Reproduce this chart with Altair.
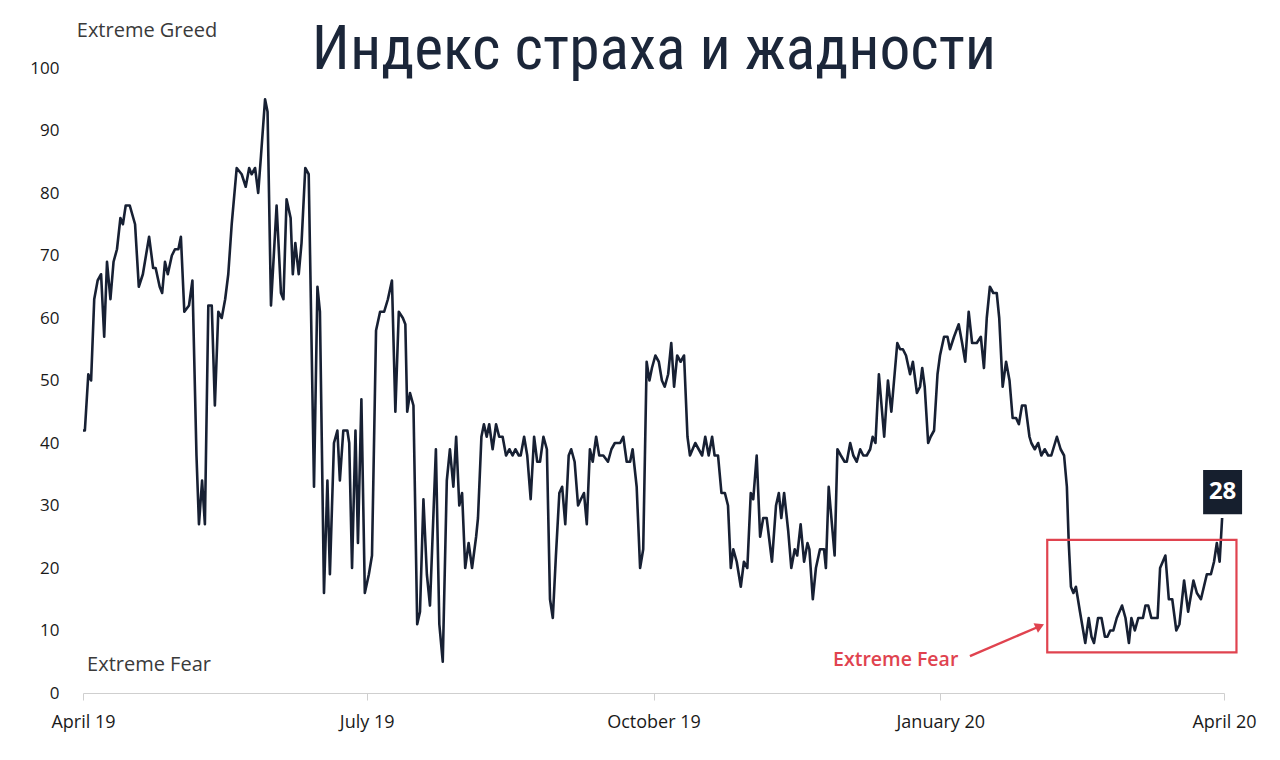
import altair as alt
import pandas as pd

# days since 2019-04-01 and index values
days_q1 = [0,0.6,1.7,2.6,3.6,4.7,5.8,6.8,7.7,8.8,9.8,10.9,12.0,12.8,13.7,15.0,16.7,17.9,19.2,21.2,22.5,23.3,24.6,25.4,26.3,27.2,28.5,29.5,30.6,31.4,32.5,34.0,35.1,36.4,37.2,38.2,39.1,40.2,41.3,42.3,43.4,44.5,45.6,46.6,47.7,49.3,50.9,52.2,53.3,54.1,55.2,56.2,57.1,58.4,59.2,60.3,62.1,63.5,64.3,65.3,66.6,67.3,68.1,69.2,70.1,71.3,72.4,74.1,75.2,76.0,77.3,78.4,79.2,80.5,81.6,82.4,83.5,84.8,85.4,86.3,87.4,88.2,89.3,90.4]
vals_q1 = [42,42,51,50,63,66,67,57,69,63,69,71,76,75,78,78,75,65,67,73,68,68,65,64,69,67,70,71,71,73,61,62,66,38,27,34,27,62,62,46,61,60,63,67,75,84,83,81,84,83,84,80,86,95,93,62,78,64,63,79,76,67,72,67,72,84,83,33,65,61,16,34,19,40,42,34,42,42,40,20,42,24,47,16]

days_q2 = [91.7,92.7,94.0,95.3,96.6,97.8,99.1,100.2,101.3,102.6,103.4,104.0,104.9,106.0,107.2,108.1,109.2,110.3,111.3,113.2,114.3,115.4,116.7,117.7,118.8,119.7,120.7,121.6,122.6,123.7,124.8,126.1,126.7,127.8,128.6,129.5,130.3,131.4,132.5,133.5,134.6,135.7,136.8,137.8,138.7,139.8,140.4,141.5,142.5,143.6,144.7,145.7,146.6,147.7,148.8,149.8,150.7,151.7,152.8,153.7,154.7,155.8,156.6,157.7,158.8,159.7,160.7,161.6,162.6,163.5,164.6,165.6,166.9,168.4,169.5,170.6,172.3,173.3,174.4,175.5,176.3,177.6,178.7,179.7,180.8,181.7]
vals_q2 = [19,22,58,61,61,63,66,45,61,60,59,45,48,46,11,13,31,19,14,39,11,5,34,39,33,41,30,32,20,24,20,25,28,41,43,41,43,39,43,41,41,38,39,38,39,38,38,41,38,31,41,37,37,41,39,15,12,22,32,33,27,38,39,37,30,31,32,27,39,37,41,38,38,37,39,40,40,41,37,37,39,33,20,23,53,50]

days_q3 = [182.5,183.6,184.7,185.7,186.6,187.7,188.7,189.6,190.6,191.7,192.8,193.9,194.7,196.4,197.5,198.6,199.6,200.7,201.8,202.6,203.7,204.8,205.9,206.9,207.8,208.6,209.7,211.0,212.0,213.1,214.2,215.0,216.1,217.2,218.2,219.3,221.0,222.3,223.2,224.0,224.9,226.2,227.2,228.3,229.1,230.2,231.3,232.4,233.0,234.1,235.1,236.4,237.7,238.3,239.2,241.1,242.0,243.1,244.3,245.0,246.1,247.1,248.2,249.3,250.3,251.4,252.5,253.3,254.2,255.3,257.0,258.2,259.3,261.2,262.1,263.0,264.0,265.3,266.2,267.5,268.5,269.2,270.0,271.1,271.9,273.0,274.1]
vals_q3 = [52,54,53,50,49,51,56,49,54,53,54,41,38,40,39,38,41,38,41,38,38,32,32,30,20,23,21,17,21,20,32,31,38,25,28,28,21,30,32,28,32,26,20,23,22,27,21,24,23,15,20,23,23,20,33,22,39,38,37,37,40,38,37,39,38,38,39,41,40,51,41,50,45,56,55,55,54,51,53,48,49,52,49,40,41,42,51]

days_q4 = [274.9,276.2,277.3,278.1,279.4,280.9,282.0,283.0,284.1,285.2,286.7,288.0,289.0,289.9,290.9,292.0,293.1,293.9,295.0,296.1,297.2,298.2,299.3,300.2,301.2,302.3,303.6,304.2,305.3,306.4,307.4,308.5,309.6,310.6,312.4,313.6,314.7,315.6,316.2,316.9,317.7,318.5,319.8,321.5,322.6,323.5,324.3,325.6,326.7,327.8,328.6,329.5,330.5,331.6,333.3,334.4,335.5,336.3,337.4,338.5,340.0,340.8,341.7,342.7,343.8,344.7,345.5,347.2,348.3,349.4,350.7,351.7,353.2,354.5,356.2,357.3,358.6,360.5,361.8,362.8,363.7,364.6,365.4]
vals_q4 = [54,57,57,55,57,59,56,53,61,56,56,57,52,60,65,64,64,60,49,53,50,44,44,43,46,46,41,40,39,40,38,39,38,38,41,39,38,33,24,17,16,17,13,8,12,9,8,12,12,9,9,10,10,12,14,12,8,12,10,12,12,14,14,12,12,12,20,22,15,15,10,11,18,13,18,16,15,19,19,21,24,21,28]

tick_days = [0, 91, 183, 275, 366]
tick_labels = ["April 19", "July 19", "October 19", "January 20", "April 20"]
y_ticks = [0, 10, 20, 30, 40, 50, 60, 70, 80, 90, 100]

title_text = "Индекс страха и жадности"
greed_label = "Extreme Greed"
fear_label = "Extreme Fear"
last_value = "28"

# annotation anchors in data units
fear_box_days = [309.3, 370.0]
fear_box_vals = [6.5, 24.5]
badge_days = [359.3, 371.8]
badge_vals = [28.6, 35.7]
arrow_days = [284.5, 306.5]
arrow_vals = [5.9, 10.6]

days = days_q1 + days_q2 + days_q3 + days_q4
vals = vals_q1 + vals_q2 + vals_q3 + vals_q4
df = pd.DataFrame({"day": days, "value": vals})

NAVY = "#172033"
RED = "#e0434f"
FONT = "Open Sans"

label_map = "{" + ",".join(f"'{d}':'{l}'" for d, l in zip(tick_days, tick_labels)) + "}"
x_scale = alt.Scale(domain=[0, 366], nice=False, zero=False)
y_scale = alt.Scale(domain=[0, 100], nice=False)

x_axis = alt.Axis(values=tick_days, labelExpr=f"{label_map}[datum.value]", title=None,
                  grid=False, domainColor="#cfcfcf", tickColor="#cfcfcf", tickSize=7,
                  labelFont=FONT, labelFontSize=18, labelColor="#1a1a1a", labelPadding=13,
                  labelFlush=False)
y_axis = alt.Axis(values=y_ticks, title=None, grid=False, domain=False, ticks=False,
                  labelFont=FONT, labelFontSize=17, labelColor="#1a1a1a", labelPadding=24)

line = alt.Chart(df).mark_line(color=NAVY, strokeWidth=2.6, strokeJoin="round").encode(
    x=alt.X("day:Q", scale=x_scale, axis=x_axis),
    y=alt.Y("value:Q", scale=y_scale, axis=y_axis),
)

box_df = pd.DataFrame({"x": [fear_box_days[0]], "x2": [fear_box_days[1]],
                       "y": [fear_box_vals[0]], "y2": [fear_box_vals[1]]})
box = alt.Chart(box_df).mark_rect(fill=None, stroke=RED, strokeWidth=2.2).encode(
    x=alt.X("x:Q", scale=x_scale), x2="x2", y=alt.Y("y:Q", scale=y_scale), y2="y2")

badge_df = pd.DataFrame({"x": [badge_days[0]], "x2": [badge_days[1]],
                         "y": [badge_vals[0]], "y2": [badge_vals[1]]})
badge = alt.Chart(badge_df).mark_rect(color="#161f2e").encode(
    x=alt.X("x:Q", scale=x_scale), x2="x2", y=alt.Y("y:Q", scale=y_scale), y2="y2")

badge_txt_df = pd.DataFrame({"x": [sum(badge_days) / 2], "y": [sum(badge_vals) / 2], "t": [last_value]})
badge_txt = alt.Chart(badge_txt_df).mark_text(color="white", font=FONT, fontSize=24,
                                              fontWeight="bold", baseline="middle").encode(
    x=alt.X("x:Q", scale=x_scale), y=alt.Y("y:Q", scale=y_scale), text="t:N")

arrow_df = pd.DataFrame({"x": arrow_days, "y": arrow_vals})
arrow = alt.Chart(arrow_df).mark_line(color=RED, strokeWidth=2.4).encode(
    x=alt.X("x:Q", scale=x_scale), y=alt.Y("y:Q", scale=y_scale))
head_df = pd.DataFrame({"x": [arrow_days[1]], "y": [arrow_vals[1]]})
head = alt.Chart(head_df).mark_point(shape="triangle", filled=True, color=RED, size=110,
                                     angle=65, opacity=1).encode(
    x=alt.X("x:Q", scale=x_scale), y=alt.Y("y:Q", scale=y_scale))

ann_df = pd.DataFrame({
    "x": [-2.0, 1.3, 240.6],
    "y": [105.9, 4.5, 5.3],
    "t": [greed_label, fear_label, fear_label],
    "kind": ["greed", "fear", "fear_red"],
})
gray_txt = alt.Chart(ann_df).transform_filter("datum.kind != 'fear_red'").mark_text(
    align="left", baseline="middle", font=FONT, fontSize=20, color="#3a3a3a").encode(
    x=alt.X("x:Q", scale=x_scale), y=alt.Y("y:Q", scale=y_scale), text="t:N")
red_txt = alt.Chart(ann_df).transform_filter("datum.kind == 'fear_red'").mark_text(
    align="left", baseline="middle", font=FONT, fontSize=19.5, fontWeight=600, color=RED).encode(
    x=alt.X("x:Q", scale=x_scale), y=alt.Y("y:Q", scale=y_scale), text="t:N")

title = alt.Chart(pd.DataFrame({"t": [title_text]})).mark_text(
    font="Ubuntu Condensed, Roboto Condensed, DejaVu Sans Condensed, Liberation Sans Narrow, sans-serif",
    fontSize=61.5, color="#1b2639", align="center", baseline="alphabetic").encode(
    x=alt.value(571), y=alt.value(1), text="t:N")

chart = alt.layer(line, box, arrow, head, red_txt, gray_txt, badge, badge_txt, title).properties(
    width=1141, height=625,
    background="white",
    autosize=alt.AutoSizeParams(type="none"),
    padding={"left": 75, "top": 60, "right": 40, "bottom": 50},
).configure_view(strokeWidth=0, stroke="transparent")

chart.save("out.html", embed_options={"renderer": "svg", "actions": False})
